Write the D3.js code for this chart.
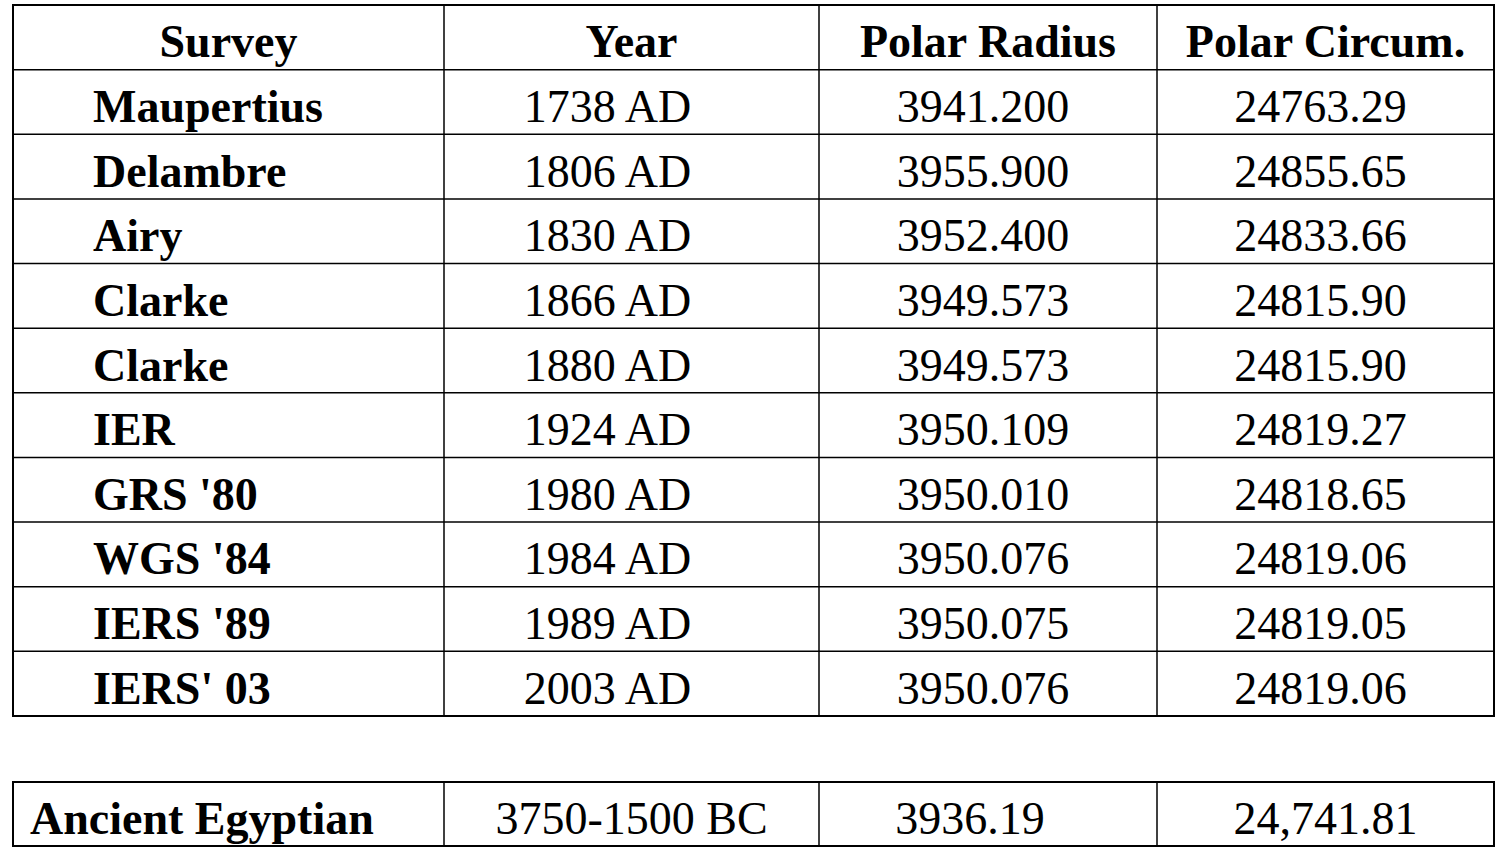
<!DOCTYPE html>
<html>
<head>
<meta charset="utf-8">
<script src="https://cdn.jsdelivr.net/npm/d3@7"></script>
<style>
  body { margin: 0; background: #fff; }
  text { font-family: "Liberation Serif", "Times New Roman", serif; font-size: 46px; fill: #000; }
</style>
</head>
<body>
<svg id="chart" width="1507" height="856"></svg>
<script>
// table data
const headers = ["Survey", "Year", "Polar Radius", "Polar Circum."];
const surveys = ["Maupertius", "Delambre", "Airy", "Clarke", "Clarke", "IER", "GRS '80", "WGS '84", "IERS '89", "IERS' 03"];
const years = ["1738 AD", "1806 AD", "1830 AD", "1866 AD", "1880 AD", "1924 AD", "1980 AD", "1984 AD", "1989 AD", "2003 AD"];
const radii = ["3941.200", "3955.900", "3952.400", "3949.573", "3949.573", "3950.109", "3950.010", "3950.076", "3950.075", "3950.076"];
const circums = ["24763.29", "24855.65", "24833.66", "24815.90", "24815.90", "24819.27", "24818.65", "24819.06", "24819.05", "24819.06"];
const egypt = ["Ancient Egyptian", "3750-1500 BC", "3936.19", "24,741.81"];

var svg = d3.select("#chart");

// column edges
var colEdges = [13, 444, 819, 1157, 1494];
var colMid = i => (colEdges[i] + colEdges[i + 1]) / 2;
// data cells sit a bit left of centre in the original
var dataShift = [0, -24, -5, -5];

// main table rows: header + 10 data rows
var y = d3.scaleLinear().domain([0, 11]).range([5, 716]);
var rows = [headers].concat(surveys.map((s, i) => [s, years[i], radii[i], circums[i]]));

var main = svg.append("g");

main.append("rect")
  .attr("x", colEdges[0]).attr("y", y(0))
  .attr("width", colEdges[4] - colEdges[0]).attr("height", y(11) - y(0))
  .attr("fill", "none").attr("stroke", "#000").attr("stroke-width", 2);

// horizontal lines
main.selectAll("line.h").data(d3.range(1, 11)).enter().append("line")
  .attr("x1", colEdges[0]).attr("x2", colEdges[4])
  .attr("y1", d => y(d)).attr("y2", d => y(d))
  .attr("stroke", "#000").attr("stroke-width", 1.5);

// vertical lines
main.selectAll("line.v").data([1, 2, 3]).enter().append("line")
  .attr("x1", d => colEdges[d]).attr("x2", d => colEdges[d])
  .attr("y1", y(0)).attr("y2", y(11))
  .attr("stroke", "#000").attr("stroke-width", 1.5);

rows.forEach((row, r) => {
  row.forEach((val, c) => {
    var t = main.append("text")
      .attr("y", (y(r) + y(r + 1)) / 2 + 20)
      .text(val);
    if (r === 0) {
      t.attr("x", colMid(c)).attr("text-anchor", "middle").attr("font-weight", "bold");
    } else if (c === 0) {
      t.attr("x", 93).attr("font-weight", "bold");
    } else {
      t.attr("x", colMid(c) + dataShift[c]).attr("text-anchor", "middle");
    }
  });
});

// second table: ancient egyptian
var g2 = svg.append("g");
var top2 = 782, bot2 = 846;
g2.append("rect")
  .attr("x", colEdges[0]).attr("y", top2)
  .attr("width", colEdges[4] - colEdges[0]).attr("height", bot2 - top2)
  .attr("fill", "none").attr("stroke", "#000").attr("stroke-width", 2);
g2.selectAll("line").data([1, 2, 3]).enter().append("line")
  .attr("x1", d => colEdges[d]).attr("x2", d => colEdges[d])
  .attr("y1", top2).attr("y2", bot2)
  .attr("stroke", "#000").attr("stroke-width", 1.5);
egypt.forEach((val, c) => {
  var t = g2.append("text").attr("y", (top2 + bot2) / 2 + 20).text(val);
  if (c === 0) t.attr("x", 30).attr("font-weight", "bold");
  else t.attr("x", colMid(c) + [0, 0, -18, 0][c]).attr("text-anchor", "middle");
});
</script>
</body>
</html>
